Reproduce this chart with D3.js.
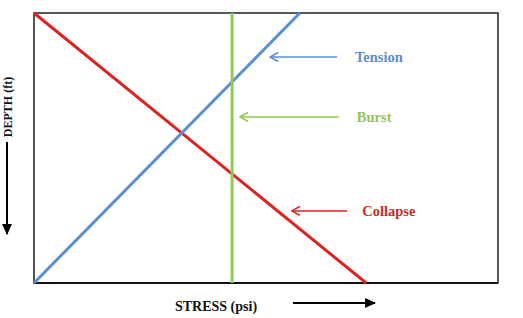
<!DOCTYPE html>
<html>
<head>
<meta charset="utf-8">
<script src="https://cdn.jsdelivr.net/npm/d3@7"></script>
<style>
  html, body { margin: 0; padding: 0; background: #ffffff; }
  svg { display: block; }
  text { font-family: "Liberation Serif", "Times New Roman", serif; font-weight: bold; }
</style>
</head>
<body>
<div id="chart"></div>
<script>
// stress (% of max) vs depth (% of total depth, downward)
var seriesNames = ["Tension", "Burst", "Collapse"];
var tensionStress = [0, 57.3];
var tensionDepth = [100, 0];
var burstStress = [42.7, 42.7];
var burstDepth = [0, 100];
var collapseStress = [0, 71.6];
var collapseDepth = [0, 100];
// label arrows: depth where they sit, stress at tail and tip
var labelDepth = [16.3, 38.5, 73.3];
var arrowTip = [50.9, 44.4, 55.6];
var arrowTail = [65.3, 65.7, 67.5];
var axisTitles = ["STRESS (psi)", "DEPTH (ft)"];

function drawChart(selector){
    var width = 523, height = 318;
    var margin = {top: 13, right: 25, bottom: 35, left: 34};
    var colors = {"Tension": "#5b8fd2", "Burst": "#8fcb55", "Collapse": "#d92424"};
    var textColors = {"Tension": "#5f8cc4", "Burst": "#94c35f", "Collapse": "#cc2a2a"};

    var svg = d3.select(selector)
    .append("svg")
    .attr("width", width)
    .attr("height", height)

    var defs = svg.append("defs");
    seriesNames.forEach(function(n){
        defs.append("marker")
            .attr("id", "head-" + n)
            .attr("viewBox", "0 0 10 10")
            .attr("refX", 1).attr("refY", 5)
            .attr("markerWidth", 10).attr("markerHeight", 10)
            .attr("markerUnits", "userSpaceOnUse")
            .attr("orient", "auto")
            .append("path")
            .attr("d", "M9,0.5 L1,5 L9,9.5")
            .attr("fill", "none")
            .attr("stroke", colors[n])
            .attr("stroke-width", 1.6)
    })
    defs.append("marker")
        .attr("id", "head-black")
        .attr("viewBox", "0 0 10 10")
        .attr("refX", 9).attr("refY", 5)
        .attr("markerWidth", 11).attr("markerHeight", 11)
        .attr("markerUnits", "userSpaceOnUse")
        .attr("orient", "auto")
        .append("path")
        .attr("d", "M0,0.5 L10,5 L0,9.5 Z")
        .attr("fill", "#000")

    var x = d3.scaleLinear().domain([0, 100]).range([margin.left, width - margin.right]);
    var y = d3.scaleLinear().domain([0, 100]).range([margin.top, height - margin.bottom]);

    // frame
    svg.append("rect")
        .attr("x", x(0)).attr("y", y(0))
        .attr("width", x(100) - x(0)).attr("height", y(100) - y(0))
        .attr("fill", "#fff")
        .attr("stroke", "#222")
        .attr("stroke-width", 1.5)
    svg.append("line")
        .attr("x1", x(0)).attr("x2", x(0)).attr("y1", y(0)).attr("y2", y(100))
        .attr("stroke", "#555").attr("stroke-width", 2)
    svg.append("line")
        .attr("x1", x(0)).attr("x2", x(100)).attr("y1", y(100)).attr("y2", y(100))
        .attr("stroke", "#111").attr("stroke-width", 2)

    var line = d3.line()
        .x(function(d){ return x(d[0]); })
        .y(function(d){ return y(d[1]); })

    var series = [
        {name: "Collapse", data: d3.zip(collapseStress, collapseDepth)},
        {name: "Tension", data: d3.zip(tensionStress, tensionDepth)},
        {name: "Burst", data: d3.zip(burstStress, burstDepth)}
    ];

    svg.selectAll(".series")
        .data(series).enter().append("path")
        .attr("class", "series")
        .attr("d", function(d){ return line(d.data); })
        .attr("fill", "none")
        .attr("stroke", function(d){ return colors[d.name]; })
        .attr("stroke-width", 3)

    // label arrows
    seriesNames.forEach(function(n, i){
        svg.append("line")
            .attr("x1", x(arrowTip[i])).attr("x2", x(arrowTail[i]))
            .attr("y1", y(labelDepth[i])).attr("y2", y(labelDepth[i]))
            .attr("stroke", colors[n])
            .attr("stroke-width", 1.5)
            .attr("marker-start", "url(#head-" + n + ")")
        svg.append("text")
            .attr("x", x(arrowTail[i]) + (n === "Collapse" ? 15 : 18))
            .attr("y", y(labelDepth[i]))
            .attr("dy", "0.35em")
            .attr("font-size", "14.5px")
            .attr("fill", textColors[n])
            .text(n)
    })

    // axis titles
    svg.append("text")
        .attr("x", 216).attr("y", 306)
        .attr("dy", "0.35em")
        .attr("text-anchor", "middle")
        .attr("font-size", "14px")
        .attr("fill", "#111")
        .text(axisTitles[0])
    svg.append("line")
        .attr("x1", 293).attr("x2", 375).attr("y1", 303).attr("y2", 303)
        .attr("stroke", "#000").attr("stroke-width", 2)
        .attr("marker-end", "url(#head-black)")

    svg.append("text")
        .attr("transform", "translate(8,107) rotate(-90)")
        .attr("dy", "0.35em")
        .attr("text-anchor", "middle")
        .attr("font-size", "12px")
        .attr("fill", "#111")
        .text(axisTitles[1])
    svg.append("line")
        .attr("x1", 7).attr("x2", 7).attr("y1", 142).attr("y2", 234)
        .attr("stroke", "#000").attr("stroke-width", 2)
        .attr("marker-end", "url(#head-black)")
}

drawChart("#chart");
</script>
</body>
</html>
